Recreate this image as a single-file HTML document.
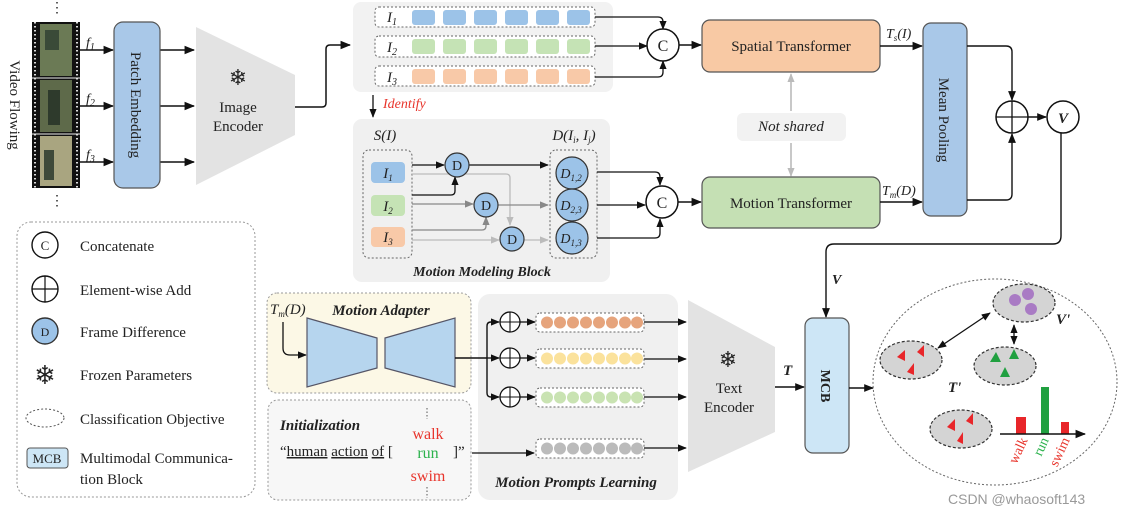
<!DOCTYPE html>
<html><head><meta charset="utf-8"><style>
html,body{margin:0;padding:0;background:#fff}
svg{display:block}
text{font-family:"Liberation Serif",serif;fill:#222}
.it{font-style:italic}
.bi{font-style:italic;font-weight:bold}
</style></head><body>
<svg width="1123" height="515" viewBox="0 0 1123 515" xmlns="http://www.w3.org/2000/svg">
<defs>
<marker id="a" viewBox="0 0 10 10" refX="9" refY="5" markerWidth="7" markerHeight="7" orient="auto-start-reverse"><path d="M0,1 L10,5 L0,9 z" fill="#111"/></marker>
<marker id="ag" viewBox="0 0 10 10" refX="9" refY="5" markerWidth="7" markerHeight="7" orient="auto-start-reverse"><path d="M0,1 L10,5 L0,9 z" fill="#888"/></marker>
<marker id="al" viewBox="0 0 10 10" refX="9" refY="5" markerWidth="7" markerHeight="7" orient="auto-start-reverse"><path d="M0,1 L10,5 L0,9 z" fill="#bbb"/></marker>
</defs>

<!-- film strip -->
<text x="57" y="12" text-anchor="middle" font-size="14">⋮</text>
<rect x="32" y="22" width="48" height="166" fill="#111"/>
<rect x="40" y="24" width="32" height="52" fill="#6b7a55"/>
<rect x="40" y="80" width="32" height="52" fill="#5e6a4a"/>
<rect x="40" y="136" width="32" height="50" fill="#a9a580"/>
<rect x="45" y="30" width="14" height="20" fill="#3a4a38"/>
<rect x="48" y="90" width="12" height="35" fill="#2e3a2c"/>
<rect x="44" y="150" width="10" height="30" fill="#3f4a3a"/>
<line x1="35" y1="22" x2="35" y2="188" stroke="#ddd" stroke-width="2" stroke-dasharray="1.5 2.5"/>
<line x1="77" y1="22" x2="77" y2="188" stroke="#ddd" stroke-width="2" stroke-dasharray="1.5 2.5"/>
<line x1="32" y1="78" x2="80" y2="78" stroke="#eee"/>
<line x1="32" y1="134" x2="80" y2="134" stroke="#eee"/>
<text x="57" y="205" text-anchor="middle" font-size="14">⋮</text>
<text transform="translate(10,105) rotate(90)" text-anchor="middle" font-size="15">Video Flowing</text>
<text x="86" y="47" class="it" font-size="14">f<tspan font-size="10" dy="3">1</tspan></text>
<text x="86" y="103" class="it" font-size="14">f<tspan font-size="10" dy="3">2</tspan></text>
<text x="86" y="159" class="it" font-size="14">f<tspan font-size="10" dy="3">3</tspan></text>
<g stroke="#111" stroke-width="1.5" marker-end="url(#a)">
<line x1="80" y1="50" x2="113" y2="50"/><line x1="80" y1="106" x2="113" y2="106"/><line x1="80" y1="162" x2="113" y2="162"/>
<line x1="160" y1="50" x2="194" y2="50"/><line x1="160" y1="106" x2="194" y2="106"/><line x1="160" y1="162" x2="194" y2="162"/>
</g>
<rect x="114" y="22" width="46" height="166" rx="9" fill="#a9c8e8" stroke="#555" stroke-width="1.2"/>
<text transform="translate(131,105) rotate(90)" text-anchor="middle" font-size="15">Patch Embedding</text>
<polygon points="196,27 295,75 295,135 196,185" fill="#e3e3e3"/>
<text x="238" y="85" text-anchor="middle" font-size="22" style="font-family:'DejaVu Sans'" fill="#555">❄</text>
<text x="238" y="112" text-anchor="middle" font-size="15">Image</text>
<text x="238" y="131" text-anchor="middle" font-size="15">Encoder</text>
<path d="M295,107 H322 Q326,107 326,103 V49 Q326,45 330,45 H350" fill="none" stroke="#111" stroke-width="1.5" marker-end="url(#a)"/>

<!-- top panel -->
<rect x="353" y="2" width="260" height="90" rx="8" fill="#f2f2f2"/>
<g stroke="#666" stroke-dasharray="2 2" fill="#fff">
<rect x="375" y="7" width="220" height="20" rx="4"/><rect x="375" y="36" width="220" height="21" rx="4"/><rect x="375" y="66" width="220" height="20" rx="4"/>
</g>
<text x="387" y="22" class="it" font-size="15">I<tspan font-size="10" dy="3">1</tspan></text>
<text x="387" y="52" class="it" font-size="15">I<tspan font-size="10" dy="3">2</tspan></text>
<text x="387" y="82" class="it" font-size="15">I<tspan font-size="10" dy="3">3</tspan></text>
<g fill="#9cc3e8"><rect x="412" y="10" width="23" height="15" rx="3"/><rect x="443" y="10" width="23" height="15" rx="3"/><rect x="474" y="10" width="23" height="15" rx="3"/><rect x="505" y="10" width="23" height="15" rx="3"/><rect x="536" y="10" width="23" height="15" rx="3"/><rect x="567" y="10" width="23" height="15" rx="3"/></g>
<g fill="#c5e3b5"><rect x="412" y="39" width="23" height="15" rx="3"/><rect x="443" y="39" width="23" height="15" rx="3"/><rect x="474" y="39" width="23" height="15" rx="3"/><rect x="505" y="39" width="23" height="15" rx="3"/><rect x="536" y="39" width="23" height="15" rx="3"/><rect x="567" y="39" width="23" height="15" rx="3"/></g>
<g fill="#f8c9a8"><rect x="412" y="69" width="23" height="15" rx="3"/><rect x="443" y="69" width="23" height="15" rx="3"/><rect x="474" y="69" width="23" height="15" rx="3"/><rect x="505" y="69" width="23" height="15" rx="3"/><rect x="536" y="69" width="23" height="15" rx="3"/><rect x="567" y="69" width="23" height="15" rx="3"/></g>
<g stroke="#111" stroke-width="1.3" fill="none" marker-end="url(#a)">
<path d="M595,17 H658 Q663,17 663,22 V29"/><path d="M595,46 H647"/><path d="M595,77 H658 Q663,77 663,72 V61"/>
</g>
<line x1="373" y1="95" x2="373" y2="117" stroke="#111" stroke-width="1.3" marker-end="url(#a)"/>
<text x="383" y="108" class="it" font-size="14" style="fill:#e8352c">Identify</text>

<!-- C1 & spatial -->
<circle cx="663" cy="45" r="16" fill="#fff" stroke="#111" stroke-width="1.5"/>
<text x="663" y="51" text-anchor="middle" font-size="16">C</text>
<line x1="679" y1="45" x2="701" y2="45" stroke="#111" stroke-width="1.5" marker-end="url(#a)"/>
<rect x="702" y="20" width="178" height="52" rx="8" fill="#f8c9a4" stroke="#555" stroke-width="1.2"/>
<text x="791" y="51" text-anchor="middle" font-size="15">Spatial Transformer</text>
<text x="886" y="38" class="it" font-size="14">T<tspan font-size="9" dy="3">s</tspan><tspan dy="-3">(I)</tspan></text>
<line x1="880" y1="46" x2="922" y2="46" stroke="#111" stroke-width="1.5" marker-end="url(#a)"/>

<!-- not shared -->
<line x1="791" y1="111" x2="791" y2="74" stroke="#aaa" stroke-width="1.3" marker-end="url(#al)"/>
<line x1="791" y1="143" x2="791" y2="176" stroke="#aaa" stroke-width="1.3" marker-end="url(#al)"/>
<rect x="737" y="113" width="109" height="28" rx="6" fill="#f2f2f2"/>
<text x="791" y="131" text-anchor="middle" class="it" font-size="15">Not shared</text>

<!-- motion transformer -->
<circle cx="662" cy="202" r="16" fill="#fff" stroke="#111" stroke-width="1.5"/>
<text x="662" y="208" text-anchor="middle" font-size="16">C</text>
<line x1="678" y1="202" x2="701" y2="202" stroke="#111" stroke-width="1.5" marker-end="url(#a)"/>
<rect x="702" y="177" width="178" height="51" rx="8" fill="#c5e0b4" stroke="#555" stroke-width="1.2"/>
<text x="791" y="208" text-anchor="middle" font-size="15">Motion Transformer</text>
<text x="882" y="195" class="it" font-size="14">T<tspan font-size="9" dy="3">m</tspan><tspan dy="-3">(D)</tspan></text>
<line x1="880" y1="202" x2="922" y2="202" stroke="#111" stroke-width="1.5" marker-end="url(#a)"/>

<rect x="923" y="23" width="44" height="193" rx="8" fill="#a9c8e8" stroke="#555" stroke-width="1.2"/>
<text transform="translate(939,120) rotate(90)" text-anchor="middle" font-size="15">Mean Pooling</text>
<g stroke="#111" stroke-width="1.4" fill="none" marker-end="url(#a)">
<path d="M967,46 H1006 Q1012,46 1012,52 V100"/><path d="M967,200 H1006 Q1012,200 1012,194 V134"/>
<path d="M1028,117 H1046"/>
</g>
<circle cx="1012" cy="117" r="16" fill="#fff" stroke="#111" stroke-width="1.5"/>
<path d="M996,117 H1028 M1012,101 V133" stroke="#111" stroke-width="1.3"/>
<circle cx="1063" cy="117" r="16" fill="#fff" stroke="#111" stroke-width="1.5"/>
<text x="1063" y="123" text-anchor="middle" class="bi" font-size="15">V</text>
<path d="M1061,133 V236 Q1061,244 1053,244 H834 Q826,244 826,252 V317" fill="none" stroke="#111" stroke-width="1.4" marker-end="url(#a)"/>
<text x="832" y="284" class="bi" font-size="14">V</text>

<!-- motion modeling block -->
<rect x="353" y="119" width="257" height="163" rx="9" fill="#f0f0f0"/>
<text x="385" y="140" text-anchor="middle" class="it" font-size="15">S(I)</text>
<text x="574" y="140" text-anchor="middle" class="it" font-size="15">D(I<tspan font-size="9" dy="3">i</tspan><tspan dy="-3">, I</tspan><tspan font-size="9" dy="3">j</tspan><tspan dy="-3">)</tspan></text>
<rect x="363" y="150" width="49" height="108" rx="6" fill="none" stroke="#666" stroke-dasharray="2 2"/>
<rect x="550" y="150" width="47" height="108" rx="6" fill="none" stroke="#666" stroke-dasharray="2 2"/>
<rect x="371" y="162" width="34" height="21" rx="4" fill="#9cc3e8"/>
<rect x="371" y="195" width="34" height="21" rx="4" fill="#c5e3b5"/>
<rect x="371" y="227" width="34" height="20" rx="4" fill="#f8c9a8"/>
<text x="388" y="178" text-anchor="middle" class="it" font-size="15">I<tspan font-size="9" dy="3">1</tspan></text>
<text x="388" y="211" text-anchor="middle" class="it" font-size="15">I<tspan font-size="9" dy="3">2</tspan></text>
<text x="388" y="242" text-anchor="middle" class="it" font-size="15">I<tspan font-size="9" dy="3">3</tspan></text>
<g fill="none" stroke-width="1.3">
<path d="M412,174 H506 Q510,174 510,178 V225" stroke="#bbb" marker-end="url(#al)"/>
<path d="M412,240 H499" stroke="#bbb" marker-end="url(#al)"/>
<path d="M524,240 H548" stroke="#bbb" marker-end="url(#al)"/>
<path d="M412,204 H473" stroke="#888" marker-end="url(#ag)"/>
<path d="M412,230 H482 Q486,230 486,226 V217" stroke="#888" marker-end="url(#ag)"/>
<path d="M498,205 H548" stroke="#888" marker-end="url(#ag)"/>
<path d="M412,165 H444" stroke="#111" marker-end="url(#a)"/>
<path d="M412,195 H451 Q455,195 455,191 V177" stroke="#111" marker-end="url(#a)"/>
<path d="M469,165 H548" stroke="#111" marker-end="url(#a)"/>
<path d="M597,172 H655 Q660,172 660,177 V185" stroke="#111" marker-end="url(#a)"/>
<path d="M597,205 H645" stroke="#111" marker-end="url(#a)"/>
<path d="M597,238 H655 Q660,238 660,233 V219" stroke="#111" marker-end="url(#a)"/>
</g>
<g fill="#9cc3e8" stroke="#333" stroke-width="1.2">
<circle cx="457" cy="165" r="12"/><circle cx="486" cy="205" r="12"/><circle cx="512" cy="239" r="12"/>
<circle cx="572" cy="173" r="16"/><circle cx="572" cy="205" r="16"/><circle cx="572" cy="238" r="16"/>
</g>
<text x="457" y="170" text-anchor="middle" font-size="14">D</text>
<text x="486" y="210" text-anchor="middle" font-size="14">D</text>
<text x="512" y="244" text-anchor="middle" font-size="14">D</text>
<text x="571" y="178" text-anchor="middle" class="it" font-size="14">D<tspan font-size="9" dy="3">1,2</tspan></text>
<text x="571" y="210" text-anchor="middle" class="it" font-size="14">D<tspan font-size="9" dy="3">2,3</tspan></text>
<text x="571" y="243" text-anchor="middle" class="it" font-size="14">D<tspan font-size="9" dy="3">1,3</tspan></text>
<text x="482" y="276" text-anchor="middle" class="bi" font-size="14">Motion Modeling Block</text>

<!-- legend -->
<rect x="17" y="222" width="238" height="275" rx="14" fill="#fff" stroke="#999" stroke-dasharray="2 2"/>
<circle cx="45" cy="245" r="13" fill="#fff" stroke="#111" stroke-width="1.4"/>
<text x="45" y="250" text-anchor="middle" font-size="13">C</text>
<text x="80" y="251" font-size="15">Concatenate</text>
<circle cx="45" cy="289" r="13" fill="#fff" stroke="#111" stroke-width="1.4"/>
<path d="M32,289 H58 M45,276 V302" stroke="#111" stroke-width="1.2"/>
<text x="80" y="295" font-size="15">Element-wise Add</text>
<circle cx="45" cy="331" r="13" fill="#9cc3e8" stroke="#333" stroke-width="1.4"/>
<text x="45" y="336" text-anchor="middle" font-size="12">D</text>
<text x="80" y="337" font-size="15">Frame Difference</text>
<text x="45" y="384" text-anchor="middle" font-size="26" style="font-family:'DejaVu Sans'" fill="#444">❄</text>
<text x="80" y="380" font-size="15">Frozen Parameters</text>
<ellipse cx="45" cy="418" rx="19" ry="9" fill="none" stroke="#555" stroke-dasharray="2 2"/>
<text x="80" y="424" font-size="15">Classification Objective</text>
<rect x="27" y="448" width="41" height="20" rx="3" fill="#cde6f6" stroke="#555"/>
<text x="47" y="463" text-anchor="middle" font-size="13">MCB</text>
<text x="80" y="463" font-size="15">Multimodal Communica-</text>
<text x="80" y="484" font-size="15">tion Block</text>

<!-- motion adapter -->
<rect x="267" y="293" width="204" height="100" rx="10" fill="#fcf8e6" stroke="#999" stroke-dasharray="2 2"/>
<text x="270" y="314" class="it" font-size="15">T<tspan font-size="9" dy="3">m</tspan><tspan dy="-3">(D)</tspan></text>
<text x="381" y="315" text-anchor="middle" class="bi" font-size="15">Motion Adapter</text>
<path d="M283,322 V348 Q283,355 290,355 H306" fill="none" stroke="#111" stroke-width="1.3" marker-end="url(#a)"/>
<polygon points="307,318 377,338 377,368 307,387" fill="#b6d5ee" stroke="#556" stroke-width="1.2"/>
<polygon points="385,338 455,318 455,387 385,368" fill="#b6d5ee" stroke="#556" stroke-width="1.2"/>

<!-- init -->
<rect x="268" y="400" width="203" height="100" rx="10" fill="#f7f7f7" stroke="#999" stroke-dasharray="2 2"/>
<text x="280" y="430" class="bi" font-size="15">Initialization</text>
<text x="280" y="456" font-size="15">“<tspan text-decoration="underline">human</tspan> <tspan text-decoration="underline">action</tspan> <tspan text-decoration="underline">of</tspan> [</text>
<text x="453" y="456" font-size="15">]”</text>
<text x="428" y="439" text-anchor="middle" font-size="16" style="fill:#e8352c">walk</text>
<text x="428" y="458" text-anchor="middle" font-size="16" style="fill:#2bb24c">run</text>
<text x="428" y="481" text-anchor="middle" font-size="16" style="fill:#e8352c">swim</text>
<line x1="427" y1="408" x2="427" y2="419" stroke="#555" stroke-dasharray="1.5 2"/>
<line x1="427" y1="487" x2="427" y2="498" stroke="#555" stroke-dasharray="1.5 2"/>

<!-- prompts -->
<rect x="478" y="294" width="200" height="206" rx="12" fill="#f0f0f0"/>
<path d="M455,358 H487 M497,322 H491 Q487,322 487,326 V393 Q487,397 491,397 H498" fill="none" stroke="#111" stroke-width="1.4"/>
<g stroke="#111" stroke-width="1.3" marker-end="url(#a)">
<line x1="491" y1="322" x2="499" y2="322"/><line x1="487" y1="358" x2="499" y2="358"/><line x1="491" y1="397" x2="499" y2="397"/>
<line x1="520" y1="322" x2="535" y2="322"/><line x1="520" y1="358" x2="535" y2="358"/><line x1="520" y1="397" x2="535" y2="397"/>
<line x1="644" y1="322" x2="686" y2="322"/><line x1="644" y1="359" x2="686" y2="359"/><line x1="644" y1="397" x2="686" y2="397"/><line x1="644" y1="448" x2="686" y2="448"/>
<line x1="472" y1="453" x2="534" y2="453"/>
</g>
<g fill="#fff" stroke="#111" stroke-width="1.3">
<circle cx="510" cy="322" r="10"/><circle cx="510" cy="358" r="10"/><circle cx="510" cy="397" r="10"/>
</g>
<path d="M500,322 H520 M510,312 V332 M500,358 H520 M510,348 V368 M500,397 H520 M510,387 V407" stroke="#111" stroke-width="1.1"/>
<g fill="#fff" stroke="#666" stroke-dasharray="2 2">
<rect x="536" y="313" width="108" height="19" rx="4"/><rect x="536" y="349" width="108" height="19" rx="4"/><rect x="536" y="388" width="108" height="19" rx="4"/><rect x="536" y="439" width="108" height="19" rx="4"/>
</g>
<g fill="#e6a47c"><circle cx="547" cy="322.5" r="6"/><circle cx="560" cy="322.5" r="6"/><circle cx="573" cy="322.5" r="6"/><circle cx="586" cy="322.5" r="6"/><circle cx="599" cy="322.5" r="6"/><circle cx="612" cy="322.5" r="6"/><circle cx="625" cy="322.5" r="6"/><circle cx="637" cy="322.5" r="6"/></g>
<g fill="#fbe29c"><circle cx="547" cy="358.5" r="6"/><circle cx="560" cy="358.5" r="6"/><circle cx="573" cy="358.5" r="6"/><circle cx="586" cy="358.5" r="6"/><circle cx="599" cy="358.5" r="6"/><circle cx="612" cy="358.5" r="6"/><circle cx="625" cy="358.5" r="6"/><circle cx="637" cy="358.5" r="6"/></g>
<g fill="#c9e3b2"><circle cx="547" cy="397.5" r="6"/><circle cx="560" cy="397.5" r="6"/><circle cx="573" cy="397.5" r="6"/><circle cx="586" cy="397.5" r="6"/><circle cx="599" cy="397.5" r="6"/><circle cx="612" cy="397.5" r="6"/><circle cx="625" cy="397.5" r="6"/><circle cx="637" cy="397.5" r="6"/></g>
<g fill="#bbb"><circle cx="547" cy="448.5" r="6"/><circle cx="560" cy="448.5" r="6"/><circle cx="573" cy="448.5" r="6"/><circle cx="586" cy="448.5" r="6"/><circle cx="599" cy="448.5" r="6"/><circle cx="612" cy="448.5" r="6"/><circle cx="625" cy="448.5" r="6"/><circle cx="637" cy="448.5" r="6"/></g>
<text x="576" y="487" text-anchor="middle" class="bi" font-size="15">Motion Prompts Learning</text>

<!-- text encoder -->
<polygon points="688,300 775,347 775,432 688,472" fill="#e3e3e3"/>
<text x="728" y="367" text-anchor="middle" font-size="22" style="font-family:'DejaVu Sans'" fill="#555">❄</text>
<text x="729" y="393" text-anchor="middle" font-size="15">Text</text>
<text x="729" y="412" text-anchor="middle" font-size="15">Encoder</text>
<text x="783" y="375" class="bi" font-size="15">T</text>
<line x1="775" y1="387" x2="804" y2="387" stroke="#111" stroke-width="1.4" marker-end="url(#a)"/>
<rect x="805" y="318" width="44" height="135" rx="8" fill="#cde6f6" stroke="#555" stroke-width="1.2"/>
<text transform="translate(821,386) rotate(90)" text-anchor="middle" font-size="14" font-weight="bold">MCB</text>
<line x1="849" y1="388" x2="873" y2="388" stroke="#111" stroke-width="1.4" marker-end="url(#a)"/>

<!-- classification -->
<ellipse cx="995" cy="382" rx="122" ry="103" fill="none" stroke="#666" stroke-dasharray="2 2"/>
<g fill="#d4d4d4" stroke="#333" stroke-dasharray="3 2" stroke-width="1.2">
<ellipse cx="1024" cy="303" rx="31" ry="19"/><ellipse cx="911" cy="360" rx="31" ry="19"/><ellipse cx="1005" cy="366" rx="31" ry="19"/><ellipse cx="961" cy="429" rx="31" ry="19"/>
</g>
<g fill="#a97bc4"><circle cx="1015" cy="300" r="6"/><circle cx="1028" cy="294" r="6"/><circle cx="1031" cy="309" r="6"/></g>
<g fill="#e8262a">
<polygon points="897,357 905,350 905,361"/><polygon points="917,352 924,345 924,357"/><polygon points="907,372 914,363 914,375"/>
<polygon points="947,427 955,419 955,431"/><polygon points="966,421 973,413 973,425"/><polygon points="957,441 963,432 963,444"/>
</g>
<g fill="#20a040">
<polygon points="990,362 996,352 1001,362"/><polygon points="1009,359 1014,349 1019,359"/><polygon points="1000,377 1005,367 1010,377"/>
</g>
<line x1="938" y1="348" x2="990" y2="313" stroke="#111" stroke-width="1.3" marker-start="url(#a)" marker-end="url(#a)"/>
<line x1="1014" y1="325" x2="1014" y2="344" stroke="#111" stroke-width="1.3" marker-start="url(#a)" marker-end="url(#a)"/>
<text x="1056" y="324" class="bi" font-size="15">V'</text>
<text x="948" y="392" class="bi" font-size="15">T'</text>
<rect x="1016" y="417" width="10" height="17" fill="#e8262a"/>
<rect x="1041" y="387" width="8" height="47" fill="#20a040"/>
<rect x="1061" y="422" width="8" height="12" fill="#e8262a"/>
<line x1="1000" y1="434" x2="1085" y2="434" stroke="#111" stroke-width="1.5" marker-end="url(#a)"/>
<text transform="translate(1028,440) rotate(-65)" text-anchor="end" font-size="14" style="fill:#e8352c">walk</text>
<text transform="translate(1049,440) rotate(-65)" text-anchor="end" font-size="14" style="fill:#2bb24c">run</text>
<text transform="translate(1070,440) rotate(-65)" text-anchor="end" font-size="14" style="fill:#e8352c">swim</text>

<text x="948" y="504" font-size="14" style="font-family:'Liberation Sans',sans-serif;fill:#999">CSDN @whaosoft143</text>
</svg>
</body></html>
